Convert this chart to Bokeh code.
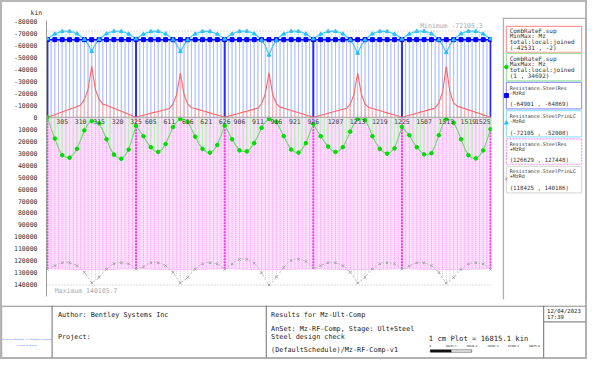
from bokeh.plotting import figure
from bokeh.models import Range1d, FixedTicker, NumeralTickFormatter, Span
from bokeh.layouts import column, row
from bokeh.embed import file_html
from bokeh.resources import INLINE
from bokeh.core.properties import value

MONO = "DejaVu Sans Mono"

# ---------------- data ----------------
span_boundaries = [0, 24, 48, 72, 96, 120]
tick_positions = [4, 9, 14, 19, 24, 28, 33, 38, 43, 48, 52, 57, 62, 67, 72,
                  78, 84, 90, 96, 102, 108, 114, 120]
tick_labels = ["305", "310", "315", "320", "325", "605", "611", "616", "621", "626",
               "906", "911", "916", "921", "926", "1207", "1213", "1219", "1225",
               "1507", "1513", "1519", "1525"]
y_ticks = [-80000, -70000, -60000, -50000, -40000, -30000, -20000, -10000, 0,
           10000, 20000, 30000, 40000, 50000, 60000, 70000, 80000, 90000,
           100000, 110000, 120000, 130000, 140000]

# CombRateF.sup MinMax Mz
red_minmax = [
    -2, -1100, -2200, -3400, -4500, -5600, -6700, -7800, -9000, -10100, -15000, -23000, -42531,
    -23000, -15000, -11000, -10100, -8800, -7600, -6300, -5000, -3800, -2500, -1300, -100,
    -900, -1700, -2500, -3300, -4100, -4900, -5700, -6500, -7400, -11000, -19000, -37000,
    -19000, -11000, -8000, -7300, -6400, -5500, -4600, -3700, -2800, -1900, -1000, -100,
    -900, -1800, -2600, -3400, -4300, -5100, -6000, -6800, -7700, -11500, -19500, -37200,
    -19000, -11500, -8500, -7600, -6700, -5700, -4800, -3800, -2900, -1900, -1000, -100,
    -800, -1700, -2500, -3400, -4200, -5000, -5900, -6700, -7600, -11000, -19000, -37000,
    -19500, -11000, -8200, -7400, -6500, -5600, -4600, -3700, -2800, -1900, -1000, -100,
    -850, -1700, -2600, -3400, -4300, -5100, -6000, -6800, -7800, -12000, -21000, -42300,
    -21000, -12000, -9300, -8300, -7300, -6200, -5200, -4100, -3100, -2000, -1000, -50]

# CombRateF.sup MaxMax Mz
green_maxmax = [
    1, 9500, 17800, 26000, 31700, 33500, 33800, 31000, 26400, 19000, 11000, 5500, 3200,
    3200, 5000, 11000, 18400, 26000, 31200, 33800, 34692, 32000, 27000, 17500, 7200,
    11500, 15800, 21000, 25000, 28000, 29000, 27000, 22400, 15500, 8200, 3800, 1400,
    1800, 3800, 9500, 16200, 22000, 26400, 29000, 29600, 27500, 23200, 15500, 7000,
    12500, 18400, 23500, 27700, 28500, 28500, 26000, 21600, 15500, 8800, 4000, 1400,
    2000, 4000, 9500, 15800, 22000, 27000, 29000, 29600, 26500, 21600, 13500, 5600,
    11000, 15800, 20500, 24500, 27500, 29000, 28000, 25000, 19000, 12000, 5000, 1400,
    1200, 2400, 8000, 15800, 21500, 26400, 29000, 30400, 29000, 26000, 17500, 8000,
    11500, 15000, 20500, 25000, 28500, 31000, 31500, 30000, 23500, 15000, 6500, 1500,
    2000, 4500, 10500, 18400, 26000, 31700, 34000, 34400, 32000, 27700, 19500, 10000]

# Resistance.SteelRes -MzRd
blue_res_neg = [
    -64901, -64898, -64894, -64890, -64886, -64883, -64880, -64877, -64874, -64872, -64870, -64869, -64869,
    -64870, -64872, -64874, -64877, -64880, -64883, -64886, -64890, -64894, -64897, -64899, -64901,
    -64898, -64894, -64890, -64887, -64883, -64880, -64877, -64875, -64872, -64870, -64869, -64869,
    -64870, -64872, -64874, -64877, -64880, -64883, -64887, -64890, -64894, -64897, -64899, -64900,
    -64898, -64894, -64891, -64887, -64884, -64880, -64877, -64875, -64872, -64870, -64869, -64869,
    -64870, -64872, -64875, -64877, -64880, -64884, -64887, -64891, -64894, -64897, -64899, -64900,
    -64897, -64894, -64890, -64886, -64883, -64880, -64877, -64874, -64872, -64870, -64869, -64869,
    -64870, -64872, -64874, -64877, -64880, -64883, -64886, -64890, -64894, -64897, -64899, -64901,
    -64898, -64894, -64890, -64887, -64883, -64880, -64877, -64875, -64872, -64870, -64869, -64869,
    -64870, -64872, -64874, -64877, -64880, -64883, -64887, -64890, -64894, -64897, -64899, -64901]

# Resistance.SteelPrinLC -MzRd
cyan_prin_neg = [
    -65500, -67800, -69600, -71000, -71800, -72105.3, -71900, -71200, -69800, -67800, -65000, -61000, -55000,
    -61000, -65000, -67800, -69800, -71200, -71900, -72100, -71800, -71000, -69600, -67800, -65500,
    -67700, -69500, -70900, -71700, -72000, -71800, -71100, -69700, -67600, -64800, -60800, -55000,
    -60500, -64700, -67600, -69600, -71000, -71800, -72000, -71700, -70900, -69500, -67600, -65400,
    -67800, -69600, -71000, -71800, -72050, -71900, -71200, -69800, -67500, -64500, -59800, -52008,
    -59500, -64400, -67500, -69600, -71100, -71900, -72050, -71800, -71000, -69600, -67700, -65500,
    -67700, -69500, -70900, -71700, -72000, -71800, -71100, -69700, -67500, -64600, -60000, -53600,
    -60000, -64600, -67500, -69700, -71100, -71800, -72000, -71700, -70900, -69500, -67700, -65400,
    -67800, -69600, -71000, -71800, -72050, -71900, -71200, -69800, -67600, -64700, -60300, -54100,
    -60300, -64700, -67600, -69800, -71200, -71900, -72050, -71800, -71000, -69600, -67800, -65500]

# Resistance.SteelRes +MzRd
pink_res_pos = [
    126629, 126700, 126790, 126880, 126970, 127060, 127150, 127230, 127300, 127360, 127410, 127440, 127448,
    127440, 127410, 127360, 127300, 127230, 127150, 127060, 126970, 126880, 126790, 126700, 126640,
    126710, 126800, 126890, 126980, 127070, 127160, 127240, 127310, 127370, 127420, 127440, 127446,
    127440, 127420, 127370, 127310, 127240, 127160, 127070, 126980, 126890, 126800, 126710, 126650,
    126720, 126800, 126890, 126980, 127070, 127150, 127230, 127300, 127360, 127410, 127440, 127445,
    127440, 127410, 127360, 127300, 127230, 127150, 127070, 126980, 126890, 126800, 126720, 126660,
    126710, 126800, 126890, 126980, 127060, 127150, 127230, 127300, 127360, 127410, 127440, 127447,
    127440, 127410, 127360, 127300, 127230, 127150, 127060, 126980, 126890, 126800, 126710, 126650,
    126710, 126800, 126890, 126970, 127060, 127150, 127230, 127300, 127360, 127410, 127440, 127446,
    127440, 127410, 127360, 127300, 127230, 127150, 127060, 126970, 126890, 126800, 126710, 126640]

# Resistance.SteelPrinLC +MzRd
grey_prin_pos = [
    127000, 125500, 124000, 122600, 121600, 121300, 121600, 122600, 124000, 126500, 129600, 134000, 138400,
    136500, 133800, 130200, 127000, 124400, 122400, 121500, 121600, 121800, 122400, 124500, 127000,
    126000, 125000, 123000, 121600, 121200, 121600, 122600, 124000, 126500, 129600, 134000, 138400,
    136500, 133800, 130200, 127000, 124400, 122400, 121500, 121600, 121800, 122400, 124500, 127000,
    125000, 122500, 120200, 118800, 118425, 118800, 120000, 122000, 125500, 130000, 135500, 140185.7,
    137500, 133500, 129500, 125500, 122000, 119800, 118700, 118600, 119200, 120500, 123000, 126000,
    125500, 124000, 122600, 121600, 121300, 121600, 122600, 124000, 126500, 129600, 134000, 138400,
    136500, 133800, 130200, 127000, 124400, 122400, 121500, 121600, 121800, 122400, 124500, 127000,
    125800, 124200, 122700, 121700, 121300, 121600, 122500, 124000, 126600, 129800, 134200, 138600,
    136700, 134000, 130400, 127200, 124500, 122500, 121600, 121600, 121900, 122500, 124600, 127100]

scale_labels = ["0", "16815.1", "33630.3", "50445.4", "67260.5", "84075.6"]

# ---------------- layout sizes ----------------
W, H = 587, 359
MAIN_W, TOP_H = 502, 305
LEG_W = W - MAIN_W
TB_H = H - TOP_H

n = len(red_minmax)
stations = list(range(n))
zeros = [0] * n
mk = stations[::2]

# ---------------- main chart ----------------
p = figure(title="kin", width=MAIN_W, height=TOP_H, output_backend="svg", toolbar_location=None,
           x_range=Range1d(-0.25, 120.25), y_range=Range1d(152300, -83400),
           x_axis_location=None, min_border_left=46, min_border_right=11,
           min_border_top=17, min_border_bottom=6, outline_line_color=None,
           background_fill_color=None, border_fill_color=None)
p.grid.visible = False
p.title.align = "left"
p.title.offset = -16
p.title.standoff = 2
p.title.text_font = MONO
p.title.text_font_size = "6.5px"
p.title.text_font_style = "normal"
p.title.text_color = "#333333"

ya = p.yaxis[0]
ya.ticker = FixedTicker(ticks=y_ticks)
ya.formatter = NumeralTickFormatter(format="0")
ya.major_tick_line_color = None
ya.minor_tick_line_color = None
ya.axis_line_color = "#9a9a9a"
ya.major_label_text_font = MONO
ya.major_label_text_font_size = "6.5px"
ya.major_label_text_color = "#333333"
ya.major_label_standoff = 3
ya.bounds = (-81000, 150000)

# grey (hatch under the pink region)
p.segment(x0=stations, y0=zeros, x1=stations, y1=grey_prin_pos, line_color="#cccccc",
          line_dash="1 1", line_width=1)
# pink resistance region
p.varea(x=stations, y1=zeros, y2=pink_res_pos, fill_color="#fde0fd")
p.segment(x0=stations, y0=zeros, x1=stations, y1=pink_res_pos, line_color="#ff8aff",
          line_dash="1 1", line_width=1)
p.line(stations, pink_res_pos, line_color="#ff8aff", line_dash="1 1", line_width=1)
bnd_pink = [pink_res_pos[b] for b in span_boundaries]
p.segment(x0=span_boundaries, y0=[0] * len(span_boundaries), x1=span_boundaries, y1=bnd_pink,
          line_color="#ff30ff", line_width=2, line_dash="2 1")
# cyan hatch
p.segment(x0=stations, y0=zeros, x1=stations, y1=cyan_prin_neg, line_color="#b4f0ff", line_width=1)
# blue hatch
p.segment(x0=stations, y0=zeros, x1=stations, y1=blue_res_neg, line_color="#b8b8ff", line_width=1)
# red hatch
p.segment(x0=stations, y0=zeros, x1=stations, y1=red_minmax, line_color="#ffb0b0", line_width=1)
# green hatch
p.segment(x0=stations, y0=zeros, x1=stations, y1=green_maxmax, line_color="#b4f4b4", line_width=1)
# span boundaries (blue)
bnd_blue = [blue_res_neg[b] for b in span_boundaries]
p.segment(x0=span_boundaries, y0=[0] * len(span_boundaries), x1=span_boundaries, y1=bnd_blue,
          line_color="#2a2aff", line_width=2)

p.add_layout(Span(location=0, dimension="width", line_color="#a0a0a0", line_width=1))

# curves
p.line(stations, red_minmax, line_color="#ff6464", line_width=1.1)
p.line(stations, green_maxmax, line_color="#66dd66", line_width=1.1)
p.line(stations, cyan_prin_neg, line_color="#3cc8f2", line_width=1.1)
p.line(stations, blue_res_neg, line_color="#0000ff", line_width=1.5)
p.line(stations, grey_prin_pos, line_color="#bcbcbc", line_dash="2 2", line_width=1)

# markers
p.scatter(mk, blue_res_neg[::2], marker="square", size=4, color="#0000ff")
p.scatter(mk, green_maxmax[::2], marker="circle", size=3.6, color="#00dc00")
p.scatter(mk, cyan_prin_neg[::2], marker="triangle", size=3.8, color="#22c2ff")
p.scatter(mk, grey_prin_pos[::2], marker="x", size=3.5, color="#a0a0a0", line_width=1)

# min / max lines
cmin = min(cyan_prin_neg)
gmax = max(grey_prin_pos)
p.add_layout(Span(location=cmin, dimension="width", line_color="#b8b8b8", line_dash="1 2", line_width=1))
p.add_layout(Span(location=gmax, dimension="width", line_color="#b8b8b8", line_dash="1 2", line_width=1))
p.text(x=[span_boundaries[-1]], y=[cmin], text=["Minimum   %.1f" % cmin], text_align="right",
       text_baseline="bottom", y_offset=-1, text_font=value(MONO), text_font_size="6.5px",
       text_color="#a8a8a8")
p.text(x=[2], y=[gmax], text=["Maximum   %.1f" % gmax], text_align="left",
       text_baseline="top", y_offset=2, text_font=value(MONO), text_font_size="6.5px",
       text_color="#a8a8a8")

# station labels along the zero line
p.text(x=tick_positions[:-1], y=[0] * (len(tick_positions) - 1), text=tick_labels[:-1],
       text_align="center", text_baseline="top", y_offset=2, text_font=value(MONO),
       text_font_size="6.5px", text_color="#444444")
p.text(x=tick_positions[-1:], y=[0], text=tick_labels[-1:], text_align="right",
       text_baseline="top", y_offset=2, text_font=value(MONO), text_font_size="6.5px",
       text_color="#444444")

# ---------------- legend panel ----------------
lg = figure(width=LEG_W, height=TOP_H, output_backend="svg", toolbar_location=None,
            x_range=Range1d(516, 603), y_range=Range1d(319, 0), min_border=0,
            x_axis_location=None, y_axis_location=None, outline_line_color=None,
            background_fill_color=None, border_fill_color=None)
lg.grid.visible = False
lg.segment(x0=[516.8, 516, 601.8], y0=[0, 0.8, 0], x1=[516.8, 603, 601.8], y1=[319, 0.8, 319],
           line_color="#b0b0b0", line_width=1.6)

box_top = [10, 40.7, 73.3, 105.3, 137.3, 168.3]
box_bot = [39.3, 71.7, 103.3, 135, 166, 198.3]
box_col = ["#ff9a9a", "#9ae89a", "#9a9aff", "#95e6ff", "#ff90ff", "#dcdcdc"]
for i in range(6):
    lg.quad(left=[520], right=[597], top=[box_top[i]], bottom=[box_bot[i]], fill_color=None,
            line_color=box_col[i], line_width=1.2, line_dash="2 1" if i == 4 else "solid")

def rng(vals):
    return "(%.0f , %.0f)" % (min(vals), max(vals))

leg_big = [
    (["CombRateF.sup", "MinMax: Mz", "total:local:joined"], [15, 20.8, 27.4], rng(red_minmax), 34.5),
    (["CombRateF.sup", "MaxMax: Mz", "total:local:joined"], [46.5, 52.4, 59], rng(green_maxmax), 66),
]
for lines, ys, rtxt, ry in leg_big:
    lg.text(x=[523.3] * 4, y=ys + [ry], text=lines + [rtxt], text_baseline="middle",
            text_font=value(MONO), text_font_size="6px", text_color="#333333")

leg_small = [
    ("Resistance.SteelRes", "-MzRd", rng(blue_res_neg), [80, 85.3, 98.3]),
    ("Resistance.SteelPrinLC", "-MzRd", rng(cyan_prin_neg), [111.7, 117, 130.7]),
    ("Resistance.SteelRes", "+MzRd", rng(pink_res_pos), [142.7, 148.3, 161.7]),
    ("Resistance.SteelPrinLC", "+MzRd", rng(grey_prin_pos), [174, 179.5, 193.3]),
]
for a, b, c, ys in leg_small:
    lg.text(x=[523.3, 523.3], y=ys[:2], text=[a, b], text_baseline="middle",
            text_font=value(MONO), text_font_size="5px", text_color="#333333")
    lg.text(x=[523.3], y=ys[2:], text=[c], text_baseline="middle",
            text_font=value(MONO), text_font_size="5.8px", text_color="#333333")

lg.scatter([520], [56], marker="circle", size=3.6, color="#00dc00")
lg.scatter([520], [88.3], marker="square", size=4, color="#0000ff")
lg.scatter([520], [119.3], marker="triangle", size=3.8, color="#22c2ff")
lg.scatter([520], [182.7], marker="x", size=3.5, color="#a0a0a0")

# ---------------- title block ----------------
tb = figure(width=W, height=TB_H, output_backend="svg", toolbar_location=None,
            x_range=Range1d(0, 603), y_range=Range1d(375, 319), min_border=0,
            x_axis_location=None, y_axis_location=None, outline_line_color=None,
            background_fill_color=None, border_fill_color=None)
tb.grid.visible = False
tb.segment(x0=[0, 53, 273, 558, 558], y0=[319.6, 319, 319, 319, 336],
           x1=[603, 53, 273, 558, 603], y1=[319.6, 375, 375, 375, 336],
           line_color="#6e6e6e", line_width=1)
tb.segment(x0=[1, 601.8, 0], y0=[319, 319, 373.8], x1=[1, 601.8, 603], y1=[375, 375, 373.8],
           line_color="#b0b0b0", line_width=1.6)
tb.text(x=[59, 59], y=[328.5, 351.8], text=["Author: Bentley Systems Inc", "Project:"],
        text_baseline="middle", text_font=value(MONO), text_font_size="6.8px", text_color="#222222")
tb.text(x=[278, 278, 278, 278], y=[328.7, 343.2, 351.7, 364.7],
        text=["Results for Mz-Ult-Comp", "AnSet: Mz-RF-Comp, Stage: Ult+Steel",
              "Steel design check", "(DefaultSchedule)/Mz-RF-Comp-v1"],
        text_baseline="middle", text_font=value(MONO), text_font_size="6.8px", text_color="#222222")
tb.text(x=[440], y=[353], text=["1 cm Plot = 16815.1 kin"], text_baseline="middle",
        text_font=value(MONO), text_font_size="7.2px", text_color="#222222")
tb.text(x=[561.5, 561.5], y=[325, 331.2], text=["12/04/2023", "17:39"], text_baseline="middle",
        text_font=value(MONO), text_font_size="5.6px", text_color="#222222")
# scale bar
tb.quad(left=[441.5, 484, 527], right=[463, 506, 548.5], top=[365], bottom=[367.4],
        fill_color="#111111", line_color="#111111", line_width=0.5)
tb.quad(left=[463, 506], right=[484, 527], top=[365], bottom=[367.4],
        fill_color="white", line_color="#111111", line_width=0.5)
tb.text(x=[441.5, 463, 484, 506, 527, 548.5], y=[361.8] * 6, text=scale_labels,
        text_align="center", text_baseline="middle", text_font=value(MONO),
        text_font_size="2.6px", text_color="#111111")
# tiny logo text
tb.text(x=[27, 27], y=[353.5, 359.5],
        text=["Printed by RM Bridge (C) 2023 Bentley Systems", "licensed to Bentley"],
        text_align="center", text_baseline="middle", text_font=value(MONO),
        text_font_size="1.8px", text_color="#1a4cff")

layout = column(row(p, lg), tb,
                styles={"box-shadow": "inset 0 0 0 2px #b6b6b6", "background-color": "white",
                        "outline": "2px solid #b6b6b6", "outline-offset": "-2px"})

open("out.html", "w").write(file_html(layout, INLINE))
